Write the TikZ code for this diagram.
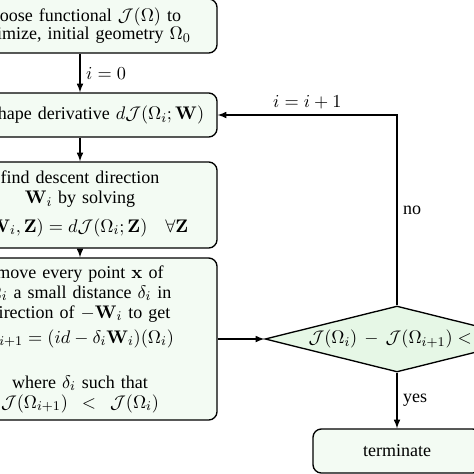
\documentclass[tikz,border=0pt]{standalone}
\usepackage{amsmath, amssymb}
\usepackage[no-math]{fontspec}
\setmainfont{Liberation Serif}
\usepackage{tikz}
\usetikzlibrary{shapes,shapes.geometric,arrows}
\definecolor{boxfill}{HTML}{F3FBF3}
\definecolor{condfill}{HTML}{E6F7E6}
\begin{document}
\begin{tikzpicture}[x=0.6pt,y=-0.6pt]
\tikzstyle{every node}=[font=\fontsize{10.8}{12}\selectfont]
\tikzstyle{stage}=[rectangle, rounded corners=5pt, thick, draw=black, fill=boxfill, align=center, text width=160pt, inner xsep=2pt, minimum width=164.4pt]
\tikzstyle{cond}=[diamond, aspect=4, thick, draw=black, fill=condfill, inner sep=-4pt, minimum width=158.4pt, minimum height=39.6pt]
\tikzstyle{connect}=[-latex, thick]
\useasboundingbox (0,0) rectangle (474,474);
\clip (0,0) rectangle (474,474);
	\node[stage, minimum height=32.4pt] (choose) at (80,26) {Choose functional $\mathcal{J}(\Omega)$ to\\[-1.2pt] minimize, initial geometry $\Omega_0$};
	\node[stage, minimum height=26.4pt] (deriv) at (80,115) {find shape derivative \mbox{$d\mathcal{J}(\Omega_i;\mathbf{W})$}};
	\node[stage, minimum height=51.6pt] (descent) at (80,205) {find descent direction\\ $\mathbf{W}_i$ by solving\\[5pt] \mbox{$a(\mathbf{W}_i,\mathbf{Z}) = d\mathcal{J}(\Omega_i;\mathbf{Z}) \quad \forall \mathbf{Z}$}\rule[-4pt]{0pt}{1pt}};
	\node[stage, minimum height=97.2pt] (move) at (80,339) {move every point $\mathbf{x}$ of\\ $\Omega_i$ a small distance $\delta_i$ in\\ direction of $-\mathbf{W}_i$ to get\\[3pt] \mbox{$\Omega_{i+1} = (id - \delta_i\mathbf{W}_i)(\Omega_i)$}\\[15pt] where $\delta_i$ such that\\ \mbox{$\mathcal{J}(\Omega_{i+1}) \enspace < \enspace \mathcal{J}(\Omega_i)$}};
	\node[cond] (check) at (397,339) {$\mathcal{J}(\Omega_i) \,-\, \mathcal{J}(\Omega_{i+1}) < \varepsilon$};
	\node[stage, text width=96pt, minimum width=100.8pt, minimum height=26.4pt] (term) at (397,451) {terminate};

	\path
		(choose) edge [connect] node[right] {$i=0$} (deriv)
		(deriv) edge [connect] (descent)
		(descent) edge [connect] (move)
		(move) edge [connect] (check)
		(check) edge [connect] node[right] {yes} (term);
	\draw[connect] (check.north) |- node[pos=0.25,right] {no} node[pos=0.75,above] {$i=i+1$} (deriv.east);

\end{tikzpicture}
\end{document}
